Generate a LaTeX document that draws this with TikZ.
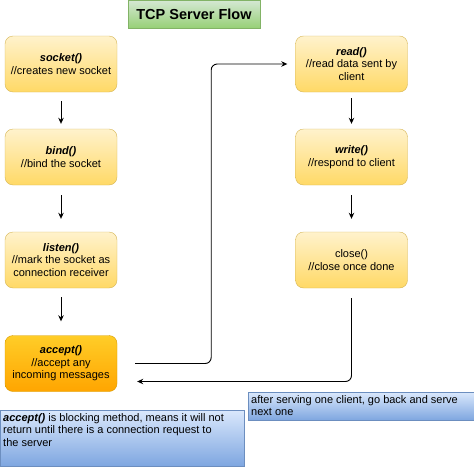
\documentclass[tikz,border=0pt]{standalone}
\usepackage{fontspec}
\setmainfont{Liberation Sans}
\usetikzlibrary{arrows.meta,positioning}
\definecolor{stepTop}{HTML}{FFF2CC}
\definecolor{stepBot}{HTML}{FFD966}
\definecolor{stepLine}{HTML}{D6B656}
\definecolor{hotTop}{HTML}{FFCD28}
\definecolor{hotBot}{HTML}{FFA500}
\definecolor{hotLine}{HTML}{D79B00}
\definecolor{noteTop}{HTML}{DAE8FC}
\definecolor{noteBot}{HTML}{7EA6E0}
\definecolor{noteLine}{HTML}{6C8EBF}
\definecolor{headTop}{HTML}{D5E8D4}
\definecolor{headBot}{HTML}{97D077}
\definecolor{headLine}{HTML}{82B366}
\tikzset{
  stepbox/.style ={draw=stepLine,rounded corners=8pt,top color=stepTop,bottom color=stepBot,
                   minimum width=112pt,minimum height=56pt,inner sep=2pt,align=center,
                   font=\fontsize{11}{12.6}\selectfont},
  hotbox/.style  ={stepbox,draw=hotLine,top color=hotTop,bottom color=hotBot},
  headbox/.style ={draw=headLine,top color=headTop,bottom color=headBot,
                   minimum width=132pt,minimum height=28pt,inner sep=0pt,
                   font=\fontsize{14.5}{16}\selectfont\bfseries},
  notebox/.style ={draw=noteLine,top color=noteTop,bottom color=noteBot,anchor=north west,
                   inner sep=3pt,font=\fontsize{11}{12.8}\selectfont},
  flow/.style    ={-{Stealth[length=6pt,width=5.5pt]},line width=0.9pt},
}
\newcommand{\fn}[1]{\textbf{\textit{#1}}}

\begin{document}
\begin{tikzpicture}[x=1pt,y=-1pt]
  \useasboundingbox (0,0) rectangle (474,466);
  % title
  \node[headbox] (title) at (194,14) {TCP Server Flow};
  % left column: setting up the server
  \node[stepbox] (socket) at (61,64)    {\fn{socket()}\\//creates new socket};
  \node[stepbox] (bind)   at (61,157)   {\fn{bind()}\\//bind the socket};
  \node[stepbox] (listen) at (61,260)   {\fn{listen()}\\//mark the socket as\\connection receiver};
  \node[hotbox]  (accept) at (61,363.5) {\fn{accept()}\\//accept any\\incoming messages};
  % right column: serving one client
  \node[stepbox] (read)   at (351.5,64)  {\fn{read()}\\//read data sent by\\client};
  \node[stepbox] (write)  at (351.5,157) {\fn{write()}\\//respond to client};
  \node[stepbox] (close)  at (351.5,260) {close()\\//close once done};
  % downward steps
  \draw[flow] ([yshift=-9pt]socket.south) -- ([yshift=5pt]bind.north);
  \draw[flow] ([yshift=-10pt]bind.south)  -- ([yshift=13pt]listen.north);
  \draw[flow] ([yshift=-9pt]listen.south) -- ([yshift=14pt]accept.north);
  \draw[flow] ([yshift=-6pt]read.south)   -- ([yshift=5pt]write.north);
  \draw[flow] ([yshift=-10pt]write.south) -- ([yshift=13pt]close.north);
  % accept -> read, and loop back after close
  \draw[flow,rounded corners=6pt] ([xshift=18pt]accept.east) -- ++(76,0) |- ([xshift=-8pt]read.west);
  \draw[flow,rounded corners=6pt] ([yshift=-10pt]close.south) |- ([xshift=20pt,yshift=-18pt]accept.east);
  % notes
  \node[notebox] (loopnote) at (248,392)
    {\parbox[t][22pt][t]{222pt}{after serving one client, go back and serve\\next one}};
  \node[notebox] (blocknote) at (0,410)
    {\parbox[t][50pt][t]{238pt}{\fn{accept()} is blocking method, means it will not\\return until there is a connection request to\\the server}};
\end{tikzpicture}
\end{document}
